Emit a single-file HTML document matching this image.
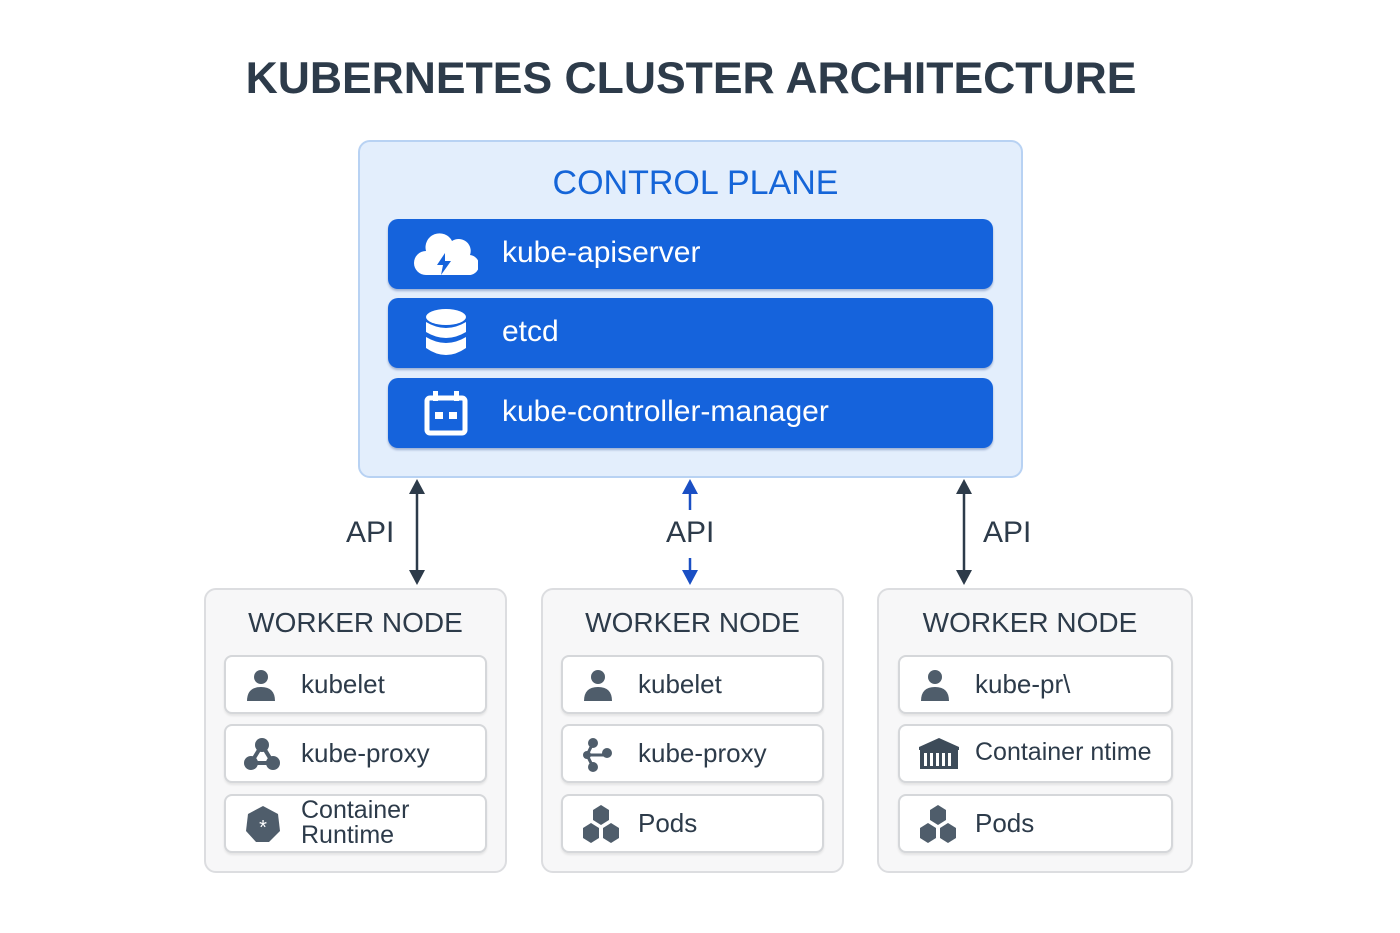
<!DOCTYPE html>
<html><head><meta charset="utf-8"><style>
body{margin:0;width:1400px;height:933px;background:#fff;position:relative;overflow:hidden;font-family:"Liberation Sans",sans-serif;color:#2d3b4a}
.a{position:absolute}
.title{left:0;width:1382px;top:54px;text-align:center;font-size:44.5px;font-weight:bold}
.cp{left:358px;top:140px;width:661px;height:334px;background:#e3eefc;border:2px solid #b8d2f3;border-radius:12px}
.cpt{left:358px;width:675px;top:164px;text-align:center;color:#1565d8;font-size:34px}
.bar{left:388px;width:605px;height:70px;background:#1563dc;border-radius:10px;box-shadow:0 2px 2px rgba(0,40,120,.3)}
.bt{position:absolute;left:114px;top:17px;color:#fff;font-size:30px}
.wn{top:588px;height:281px;background:#f7f7f8;border:2px solid #dcdde0;border-radius:12px}
.wt{top:607px;text-align:center;font-size:28px}
.it{height:55px;background:#fff;border:2px solid #d5d7da;border-radius:8px;box-shadow:0 2px 2px rgba(0,0,0,.08)}
.itx{position:absolute;left:75px;top:12px;font-size:26px}
.ic{position:absolute;left:18px;top:11px}
.api{font-size:30px;top:516px}
</style></head><body>
<div class="a title">KUBERNETES CLUSTER ARCHITECTURE</div>
<div class="a cp"></div>
<div class="a cpt">CONTROL PLANE</div>

<div class="a bar" style="top:219px"><svg class="a" style="left:24px;top:12px" width="66" height="48" viewBox="0 0 66 48"><path d="M14 44 a12 12 0 0 1 0-24 a14 14 0 0 1 26-10 a12 12 0 0 1 18 14 a10 10 0 0 1-2 20z" fill="#fff"/><path d="M33 22 l-8 12 h6 l-2 10 l10-14 h-6z" fill="#1563dc"/></svg><div class="bt">kube-apiserver</div></div>
<div class="a bar" style="top:298px"><svg class="a" style="left:36px;top:10px" width="44" height="50" viewBox="0 0 44 50"><ellipse cx="22" cy="9" rx="20" ry="8" fill="#fff"/><path d="M2 14 q20 12 40 0 v10 q-20 12-40 0z M2 29 q20 12 40 0 v11 q-20 14-40 0z" fill="#fff"/></svg><div class="bt">etcd</div></div>
<div class="a bar" style="top:378px"><svg class="a" style="left:36px;top:12px" width="44" height="46" viewBox="0 0 44 46"><rect x="3" y="8" width="38" height="35" rx="3" fill="none" stroke="#fff" stroke-width="5"/><rect x="9" y="1" width="5" height="10" fill="#fff"/><rect x="30" y="1" width="5" height="10" fill="#fff"/><rect x="11" y="22" width="8" height="7" fill="#fff"/><rect x="25" y="22" width="8" height="7" fill="#fff"/></svg><div class="bt">kube-controller-manager</div></div>

<svg class="a" style="left:0;top:0" width="1400" height="933">
<g stroke="#2d3b4a" stroke-width="2.5"><line x1="417" y1="490" x2="417" y2="574"/><line x1="964" y1="490" x2="964" y2="574"/></g>
<g fill="#2d3b4a"><polygon points="417,479 409,494 425,494"/><polygon points="417,585 409,570 425,570"/><polygon points="964,479 956,494 972,494"/><polygon points="964,585 956,570 972,570"/></g>
<g stroke="#1a4fc4" stroke-width="2.5"><line x1="690" y1="490" x2="690" y2="510"/><line x1="690" y1="558" x2="690" y2="574"/></g>
<g fill="#1a4fc4"><polygon points="690,479 682,494 698,494"/><polygon points="690,585 682,570 698,570"/></g>
</svg>
<div class="a api" style="left:346px">API</div>
<div class="a api" style="left:666px">API</div>
<div class="a api" style="left:983px">API</div>

<div class="a wn" style="left:204px;width:299px"></div>
<div class="a wn" style="left:541px;width:299px"></div>
<div class="a wn" style="left:877px;width:312px"></div>
<div class="a wt" style="left:204px;width:303px">WORKER NODE</div>
<div class="a wt" style="left:541px;width:303px">WORKER NODE</div>
<div class="a wt" style="left:877px;width:306px">WORKER NODE</div>

<div class="a it" style="left:224px;top:655px;width:259px"><svg class="ic" width="34" height="34" viewBox="0 0 34 34"><circle cx="17" cy="9" r="7" fill="#4f5d6b"/><path d="M3 33 q0-14 14-14 q14 0 14 14z" fill="#4f5d6b"/></svg><div class="itx">kubelet</div></div>
<div class="a it" style="left:224px;top:724px;width:259px"><svg class="ic" width="36" height="34" viewBox="0 0 36 34"><circle cx="18" cy="8" r="7" fill="#4f5d6b"/><circle cx="7" cy="26" r="7" fill="#4f5d6b"/><circle cx="29" cy="26" r="7" fill="#4f5d6b"/><path d="M18 8 L7 26 L29 26z" fill="none" stroke="#4f5d6b" stroke-width="4"/></svg><div class="itx">kube-proxy</div></div>
<div class="a it" style="left:224px;top:794px;width:259px"><svg class="ic" width="38" height="38" viewBox="0 0 38 38" style="top:9px"><polygon points="19,1 34,9 36,26 25,37 12,37 2,26 4,9" fill="#4f5d6b"/><text x="19" y="29" font-size="20" fill="#fff" text-anchor="middle" font-family="Liberation Sans">*</text></svg><div class="itx" style="top:2px;line-height:25px;font-size:25px">Container<br>Runtime</div></div>

<div class="a it" style="left:561px;top:655px;width:259px"><svg class="ic" width="34" height="34" viewBox="0 0 34 34"><circle cx="17" cy="9" r="7" fill="#4f5d6b"/><path d="M3 33 q0-14 14-14 q14 0 14 14z" fill="#4f5d6b"/></svg><div class="itx">kubelet</div></div>
<div class="a it" style="left:561px;top:724px;width:259px"><svg class="ic" width="34" height="36" viewBox="0 0 34 36"><circle cx="12" cy="6" r="5" fill="#4f5d6b"/><circle cx="26" cy="16" r="5" fill="#4f5d6b"/><circle cx="12" cy="30" r="5" fill="#4f5d6b"/><circle cx="6" cy="18" r="4" fill="#4f5d6b"/><path d="M12 6 L6 18 L12 30 M6 18 H26" stroke="#4f5d6b" stroke-width="3" fill="none"/></svg><div class="itx">kube-proxy</div></div>
<div class="a it" style="left:561px;top:794px;width:259px"><svg class="ic" width="40" height="40" viewBox="0 0 40 40" style="top:8px"><polygon points="20,1 28,6 28,16 20,21 12,16 12,6" fill="#4f5d6b"/><polygon points="10,19 18,24 18,34 10,39 2,34 2,24" fill="#4f5d6b"/><polygon points="30,19 38,24 38,34 30,39 22,34 22,24" fill="#4f5d6b"/></svg><div class="itx">Pods</div></div>

<div class="a it" style="left:898px;top:655px;width:271px"><svg class="ic" width="34" height="34" viewBox="0 0 34 34"><circle cx="17" cy="9" r="7" fill="#4f5d6b"/><path d="M3 33 q0-14 14-14 q14 0 14 14z" fill="#4f5d6b"/></svg><div class="itx">kube-pr\</div></div>
<div class="a it" style="left:898px;top:724px;width:271px"><svg class="ic" width="42" height="34" viewBox="0 0 42 34"><path d="M21 1 L41 10 V13 H1 V10z" fill="#3d4b59"/><rect x="2" y="13" width="38" height="19" fill="#3d4b59"/><g fill="#fff"><rect x="6" y="16" width="3" height="13"/><rect x="12" y="16" width="3" height="13"/><rect x="18" y="16" width="3" height="13"/><rect x="24" y="16" width="3" height="13"/><rect x="30" y="16" width="3" height="13"/></g></svg><div class="itx" style="font-size:25px">Container ntime</div></div>
<div class="a it" style="left:898px;top:794px;width:271px"><svg class="ic" width="40" height="40" viewBox="0 0 40 40" style="top:8px"><polygon points="20,1 28,6 28,16 20,21 12,16 12,6" fill="#4f5d6b"/><polygon points="10,19 18,24 18,34 10,39 2,34 2,24" fill="#4f5d6b"/><polygon points="30,19 38,24 38,34 30,39 22,34 22,24" fill="#4f5d6b"/></svg><div class="itx">Pods</div></div>
</body></html>
